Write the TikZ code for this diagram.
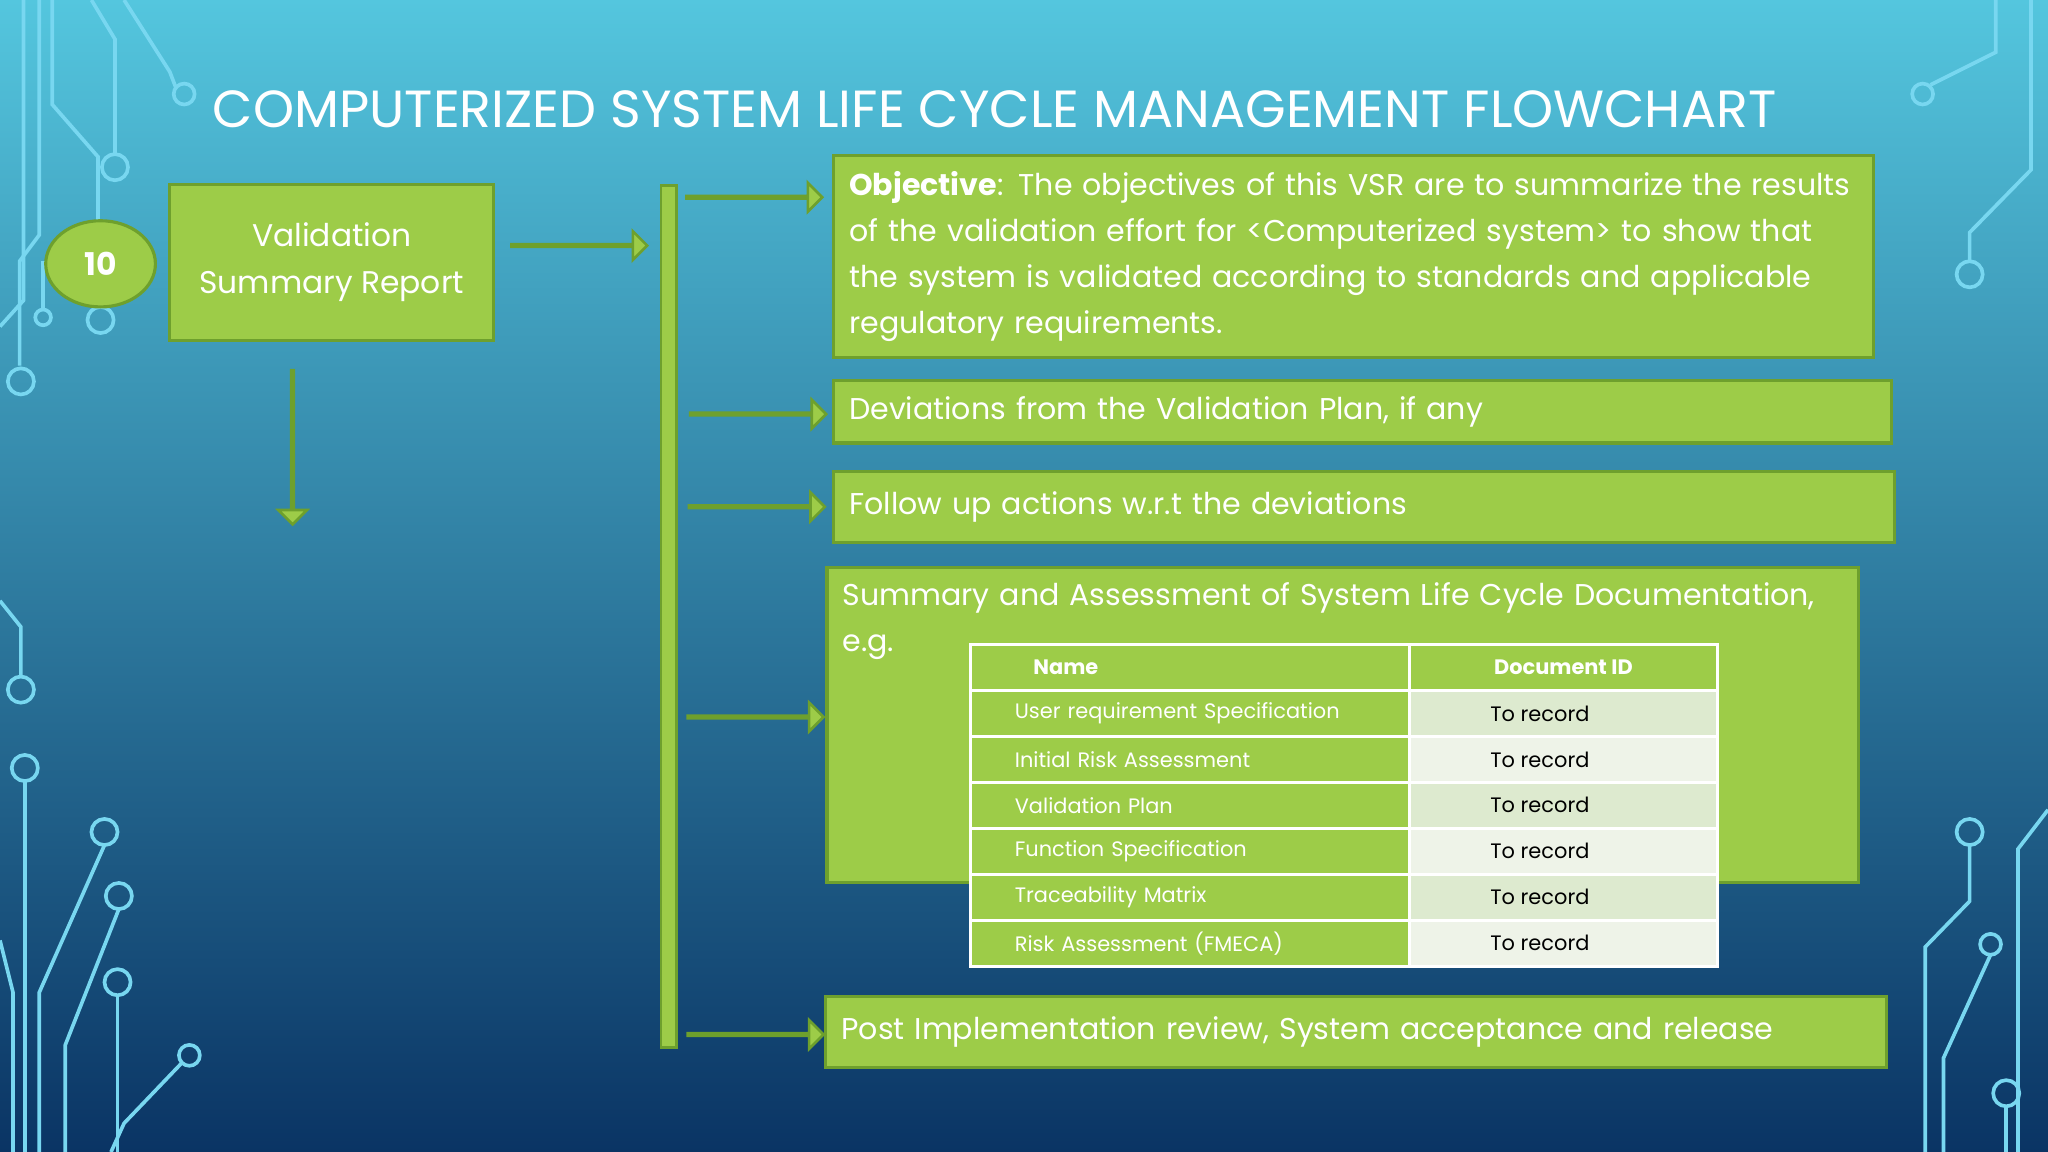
\documentclass[tikz,border=0pt]{standalone}
\usepackage{fontspec}
\setmainfont{Poppins}
\usetikzlibrary{shapes.arrows, shapes.geometric, positioning}
\definecolor{leaf}{RGB}{157,204,72}
\definecolor{leafedge}{RGB}{110,160,45}
\definecolor{cellA}{RGB}{221,234,207}
\definecolor{cellB}{RGB}{238,243,232}
\definecolor{skytop}{RGB}{84,198,222}
\definecolor{skybot}{RGB}{10,52,100}
\definecolor{wirecol}{RGB}{120,215,240}
\tikzset{
  box/.style={draw=leafedge, fill=leaf, line width=1.2pt, text=white, align=left, inner sep=6pt},
  fatarrow/.style={single arrow, draw=leafedge, fill=leaf, line width=1pt, single arrow head extend=5pt, minimum width=6pt, inner sep=0pt},
  cell/.style={draw=white, line width=1pt, minimum height=17.6pt, inner sep=0pt, font=\fontsize{8}{10}\selectfont},
  wire/.style={draw=wirecol, line width=1.4pt}
}
\begin{document}
\hyphenpenalty=10000
\begin{tikzpicture}[x=0.5pt,y=-0.5pt]
\useasboundingbox (0,0) rectangle (1568,882);
\shade[top color=skytop, bottom color=skybot] (0,0) rectangle (1568,882);

% circuit decoration
\draw[wire] (18,0) -- (18,230) -- (0,250);
\draw[wire] (40,0) -- (40,80) -- (75,120) -- (75,235);
\draw[wire] (70,0) -- (88,30) -- (88,118);
\draw[wire] (95,0) -- (130,55) -- (135,68);
\draw[wire] (30,0) -- (30,180) -- (15,200) -- (15,280);
\draw[wire] (33,200) -- (33,236);
\foreach \p/\r in {{(141,72)}/8, {(88,128)}/10, {(77,245)}/10, {(33,243)}/6, {(16,292)}/10, {(16,528)}/10, {(19,588)}/10, {(80,637)}/10, {(91,686)}/10, {(90,752)}/10, {(145,808)}/8}
  \draw[wire] \p circle (\r);
\draw[wire] (0,460) -- (16,480) -- (16,518);
\draw[wire] (19,598) -- (19,882);
\draw[wire] (0,720) -- (10,760) -- (10,882);
\draw[wire] (80,647) -- (30,760) -- (30,882);
\draw[wire] (91,696) -- (50,800) -- (50,882);
\draw[wire] (90,762) -- (90,882);
\draw[wire] (139,814) -- (95,860) -- (85,882);
\draw[wire] (1528,0) -- (1528,40) -- (1478,65);
\draw[wire] (1555,0) -- (1555,130) -- (1508,178) -- (1508,200);
\foreach \p/\r in {{(1472,72)}/8, {(1508,210)}/10, {(1508,637)}/10, {(1524,723)}/8, {(1536,837)}/10}
  \draw[wire] \p circle (\r);
\draw[wire] (1508,647) -- (1508,690) -- (1474,725) -- (1474,882);
\draw[wire] (1524,731) -- (1488,810) -- (1488,882);
\draw[wire] (1536,847) -- (1536,882);
\draw[wire] (1568,620) -- (1545,650) -- (1545,882);

% title
\node[anchor=west, text=white, font=\fontsize{20}{24}\selectfont] (title) at (156,84) {COMPUTERIZED SYSTEM LIFE CYCLE MANAGEMENT FLOWCHART};

% left part
\node[box, minimum width=124pt, minimum height=60pt, align=center, font=\fontsize{12}{18}\selectfont] (vsr) at (254,201) {Validation\\Summary Report};
\node[draw=leafedge, fill=leaf, line width=1.2pt, ellipse, minimum width=42pt, minimum height=33pt, inner sep=0pt, text=white, font=\bfseries\fontsize{12}{14}\selectfont] (num) at (77,202) {10};
\node[fatarrow, minimum height=52pt] (a0) at (443,188) {};
\node[fatarrow, minimum height=59pt, shape border rotate=270] (down) at (224,342) {};

% trunk
\node[draw=leafedge, fill=leaf, line width=1pt, minimum width=6pt, minimum height=330pt, inner sep=0pt] (trunk) at (512,472) {};

% right boxes
\tikzset{txt/.style={font=\fontsize{11.5}{17.6}\selectfont}}
\node[box, txt, anchor=north west, text width=386pt, minimum height=75pt] (obj) at (637,118) {\textbf{Objective}: The objectives of this VSR are to summarize the results of the validation effort for <Computerized system> to show that the system is validated according to standards and applicable regulatory requirements.};
\node[box, txt, anchor=north west, text width=393pt, minimum height=24pt] (dev) at (637,290) {Deviations from the Validation Plan, if any};
\node[box, txt, anchor=north west, text width=394pt, minimum height=27pt] (fol) at (637,360) {Follow up actions w.r.t the deviations};
\node[box, txt, anchor=north west, text width=383pt, minimum height=117pt, text depth=100pt] (sum) at (632,433) {Summary and Assessment of System Life Cycle Documentation, e.g.};
\node[box, txt, anchor=north west, text width=394pt, minimum height=27pt] (post) at (631,762) {Post Implementation review, System acceptance and release};

\node[fatarrow, minimum height=52pt] (a1) at (577,151) {};
\node[fatarrow, minimum height=52pt] (a2) at (580,317) {};
\node[fatarrow, minimum height=52pt] (a3) at (579,388) {};
\node[fatarrow, minimum height=52pt] (a4) at (578,549) {};
\node[fatarrow, minimum height=52pt] (a5) at (578,792) {};

% table
\node[cell, fill=leaf, text=white, font=\bfseries\fontsize{8}{10}\selectfont, minimum width=168pt] (h1) at (911,511) {\hspace*{-95pt}Name};
\node[cell, fill=leaf, text=white, font=\bfseries\fontsize{8}{10}\selectfont, minimum width=118pt] (h2) at (1197,511) {Document ID};
\foreach \t [count=\i] in {User requirement Specification, Initial Risk Assessment, Validation Plan, Function Specification, Traceability Matrix, Risk Assessment (FMECA)} {
  \pgfmathsetmacro\yy{511+35.2*\i}
  \pgfmathtruncatemacro\odd{mod(\i,2)}
  \ifnum\odd=1 \def\cc{cellA}\else\def\cc{cellB}\fi
  \node[cell, fill=leaf, text=white, minimum width=168pt, text width=134pt, align=left] (n\i) at (911,\yy) {\t};
  \node[cell, fill=\cc, text=black, minimum width=118pt] (d\i) at (1197,\yy) {\hspace*{-18pt}To record};
}
\end{tikzpicture}
\end{document}
